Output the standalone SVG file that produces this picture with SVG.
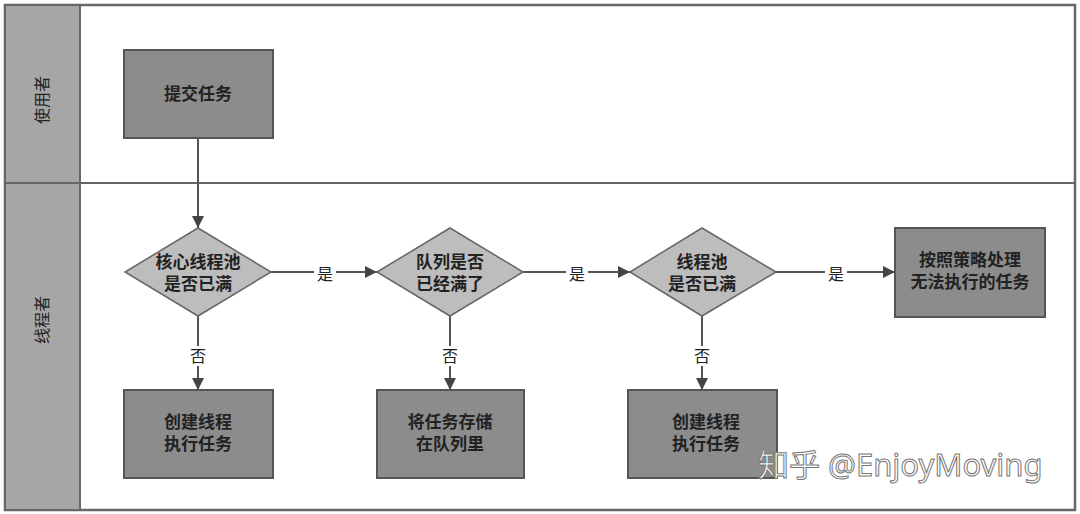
<svg xmlns="http://www.w3.org/2000/svg" width="1080" height="514" viewBox="0 0 1080 514">
<style>
.box{fill:#8c8c8c;stroke:#555;stroke-width:2}
.dia{fill:#bdbdbd;stroke:#666;stroke-width:1.5}
.t{font-family:"Liberation Serif","Noto Sans CJK SC",serif;font-size:17px;font-weight:bold;fill:#222;text-anchor:middle}
.lbl{font-family:"Liberation Serif","Noto Sans CJK SC",serif;font-size:16px;fill:#222;text-anchor:middle}
.c{stroke:#555;stroke-width:2;fill:none;marker-end:url(#a)}
</style>
<defs><marker id="a" viewBox="0 0 10 10" refX="10" refY="5" markerWidth="6" markerHeight="6" orient="auto"><path d="M0,0L10,5L0,10z" fill="#444"/></marker></defs>
<rect width="1080" height="514" fill="#fff"/>
<g id="lanes">
<rect x="5" y="5" width="1070" height="505" fill="#fff" stroke="#666" stroke-width="2.5"/>
<rect x="5" y="5" width="75" height="505" fill="#a6a6a6" stroke="#666" stroke-width="2"/>
<line x1="5" y1="183" x2="1075" y2="183" stroke="#666" stroke-width="2"/>
<text class="lbl" transform="translate(42,100) rotate(-90)" dy="6">使用者</text>
<text class="lbl" transform="translate(42,320) rotate(-90)" dy="6">线程者</text>
</g>
<g id="connectors">
<line class="c" x1="198" y1="138" x2="198" y2="228"/>
<line class="c" x1="271" y1="272" x2="377" y2="272"/>
<line class="c" x1="523" y1="272" x2="630" y2="272"/>
<line class="c" x1="776" y1="272" x2="895" y2="272"/>
<line class="c" x1="198" y1="316" x2="198" y2="390"/>
<line class="c" x1="450" y1="316" x2="450" y2="390"/>
<line class="c" x1="702" y1="316" x2="702" y2="390"/>
<rect x="314" y="264" width="22" height="20" fill="#fff"/><text class="lbl" x="325" y="280">是</text>
<rect x="566" y="264" width="22" height="20" fill="#fff"/><text class="lbl" x="577" y="280">是</text>
<rect x="825" y="264" width="22" height="20" fill="#fff"/><text class="lbl" x="836" y="280">是</text>
<rect x="188" y="346" width="20" height="20" fill="#fff"/><text class="lbl" x="198" y="362">否</text>
<rect x="440" y="346" width="20" height="20" fill="#fff"/><text class="lbl" x="450" y="362">否</text>
<rect x="692" y="346" width="20" height="20" fill="#fff"/><text class="lbl" x="702" y="362">否</text>
</g>
<g id="submit"><rect class="box" x="124" y="50" width="149" height="88"/><text class="t" x="198" y="100">提交任务</text></g>
<g id="d1"><polygon class="dia" points="198,228 271,272 198,316 125,272"/><text class="t" x="198" y="268">核心线程池</text><text class="t" x="198" y="290">是否已满</text></g>
<g id="d2"><polygon class="dia" points="450,228 523,272 450,316 377,272"/><text class="t" x="450" y="268">队列是否</text><text class="t" x="450" y="290">已经满了</text></g>
<g id="d3"><polygon class="dia" points="702,228 776,272 702,316 630,272"/><text class="t" x="702" y="268">线程池</text><text class="t" x="702" y="290">是否已满</text></g>
<g id="reject"><rect class="box" x="895" y="228" width="150" height="89"/><text class="t" x="970" y="266">按照策略处理</text><text class="t" x="970" y="288">无法执行的任务</text></g>
<g id="b1"><rect class="box" x="124" y="390" width="149" height="88"/><text class="t" x="198" y="428">创建线程</text><text class="t" x="198" y="450">执行任务</text></g>
<g id="b2"><rect class="box" x="377" y="390" width="147" height="88"/><text class="t" x="450" y="428">将任务存储</text><text class="t" x="450" y="450">在队列里</text></g>
<g id="b3"><rect class="box" x="628" y="390" width="149" height="88"/><text class="t" x="706" y="428">创建线程</text><text class="t" x="706" y="450">执行任务</text></g>
<text x="758" y="476" font-family="'Noto Sans','Noto Sans CJK SC',sans-serif" font-size="31" fill="#fff" stroke="#777" stroke-width="1">知乎 @EnjoyMoving</text>
</svg>
